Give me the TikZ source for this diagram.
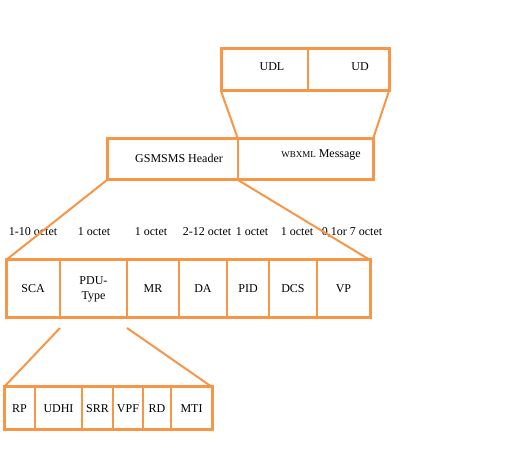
\documentclass[tikz,border=0pt]{standalone}
\usepackage{fontspec}
\setmainfont{Liberation Serif}
\definecolor{smsorange}{HTML}{F79646}
\tikzset{
  field/.style={draw=smsorange, line width=1.8pt, inner sep=0pt, outer sep=0pt, anchor=north west, align=center, font=\fontsize{12}{15}\selectfont},
  frame/.style={draw=smsorange, line width=3pt},
  link/.style={draw=smsorange, line width=2pt},
  lbl/.style={font=\fontsize{12}{14}\selectfont},
}
\begin{document}
\begin{tikzpicture}[x=1pt, y=-1pt]
\useasboundingbox (0,0) rectangle (528,454);

% User data
\node[field, minimum width=87pt, minimum height=42pt] (udl) at (221,49) {};
\node[field, minimum width=81pt, minimum height=42pt] (ud) at (308,49) {};
\draw[frame] (udl.north west) rectangle (ud.south east);
\node[lbl] (udlText) at (272,67) {UDL};
\node[lbl] (udText) at (360,67) {UD};

% SMS
\node[field, minimum width=131pt, minimum height=41pt] (hdr) at (107,139) {};
\node[field, minimum width=135pt, minimum height=41pt] (msg) at (238,139) {};
\draw[frame] (hdr.north west) rectangle (msg.south east);
\node[lbl] (hdrText) at (179,158) {GSMSMS Header};
\node[lbl] (msgText) at (321,155) {{\fontsize{9}{10}\selectfont WBXML} Message};

\draw[link] (udl.south west) -- (msg.north west);
\draw[link] (ud.south east) -- (msg.north east);

% Header fields
\node[lbl] (oct1) at (33,232) {1-10 octet};
\node[lbl] (oct2) at (94,232) {1 octet};
\node[lbl] (oct3) at (151,232) {1 octet};
\node[lbl] (oct4) at (207,232) {2-12 octet};
\node[lbl] (oct5) at (252,232) {1 octet};
\node[lbl] (oct6) at (297,232) {1 octet};
\node[lbl] (oct7) at (352,232) {0,1or 7 octet};

\node[field, minimum width=54pt, minimum height=58pt] (sca) at (6,260) {SCA};
\node[field, minimum width=67pt, minimum height=58pt] (pdu) at (60,260) {PDU-\\Type};
\node[field, minimum width=52pt, minimum height=58pt] (mr) at (127,260) {MR};
\node[field, minimum width=48pt, minimum height=58pt] (da) at (179,260) {DA};
\node[field, minimum width=42pt, minimum height=58pt] (pid) at (227,260) {PID};
\node[field, minimum width=48pt, minimum height=58pt] (dcs) at (269,260) {DCS};
\node[field, minimum width=53pt, minimum height=58pt] (vp) at (317,260) {VP};
\draw[frame] (sca.north west) rectangle (vp.south east);

\draw[link] (hdr.south west) -- (sca.north west);
\draw[link] (hdr.south east) -- (vp.north east);

% PDU-Type bits
\node[field, minimum width=31pt, minimum height=43pt] (rp) at (4,387) {RP};
\node[field, minimum width=47pt, minimum height=43pt] (udhi) at (35,387) {UDHI};
\node[field, minimum width=31pt, minimum height=43pt] (srr) at (82,387) {SRR};
\node[field, minimum width=30pt, minimum height=43pt] (vpf) at (113,387) {VPF};
\node[field, minimum width=28pt, minimum height=43pt] (rd) at (143,387) {RD};
\node[field, minimum width=41pt, minimum height=43pt] (mti) at (171,387) {MTI};
\draw[frame] (rp.north west) rectangle (mti.south east);

\draw[link] ([yshift=-10pt]pdu.south west) -- (rp.north west);
\draw[link] ([yshift=-10pt]pdu.south east) -- (mti.north east);
\end{tikzpicture}
\end{document}
